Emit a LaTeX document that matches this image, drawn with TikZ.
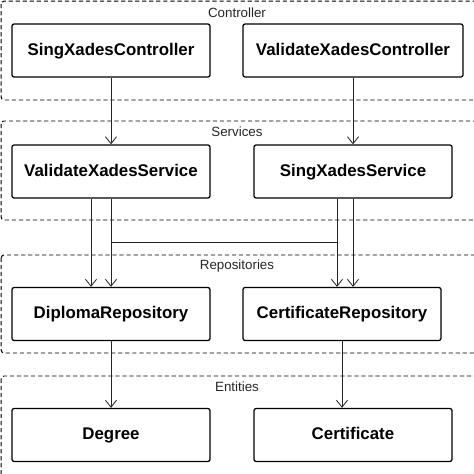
\documentclass[tikz,border=0pt]{standalone}
\usepackage{fontspec}
\setmainfont{Liberation Sans}
\usetikzlibrary{arrows.meta}

\begin{document}
\begin{tikzpicture}[> = {Straight Barb[length=5pt, width=8pt]},
	layer/.style = {draw, dashed, dash pattern = on 3pt off 2pt, line width = 0.7pt, rounded corners = 2pt},
	layertitle/.style = {font = \fontsize{9.5}{11}\selectfont, text = black!85},
	classbox/.style = {draw, line width = 0.9pt, rounded corners = 1.5pt, minimum height = 1.325 cm, text height = 1.6ex, text depth = 0.3ex, font = \fontsize{12}{14}\selectfont\bfseries},
	link/.style = {->, line width = 0.6pt, black!85}]

	\clip (0, -0.0) rectangle (11.85, 11.85);

	% Layers
	
	\draw [layer] (0.03, 11.82) rectangle (12.2, 9.35);
	\draw [layer] (0.03, 8.825) rectangle (12.2, 6.35);
	\draw [layer] (0.03, 5.475) rectangle (12.2, 3.025);
	\draw [layer] (0.03, 2.45) rectangle (12.2, -0.3);
	
	\node [layertitle] (ctrl) at (5.925, 11.525) {Controller};
	\node [layertitle] (serv) at (5.925, 8.55) {Services};
	\node [layertitle] (repo) at (5.925, 5.2) {Repositories};
	\node [layertitle] (enti) at (5.925, 2.175) {Entities};
	
	% Classes
	
	\node [classbox, minimum width = 4.95 cm] (sxc) at (2.775, 10.5875) {SingXadesController};
	\node [classbox, minimum width = 5.5 cm] (vxc) at (8.825, 10.5875) {ValidateXadesController};
	\node [classbox, minimum width = 4.95 cm] (vxs) at (2.775, 7.5625) {ValidateXadesService};
	\node [classbox, minimum width = 4.95 cm] (sxs) at (8.825, 7.5625) {SingXadesService};
	\node [classbox, minimum width = 4.95 cm] (dr) at (2.775, 4.0) {DiplomaRepository};
	\node [classbox, minimum width = 4.95 cm] (cr) at (8.55, 4.0) {CertificateRepository};
	\node [classbox, minimum width = 4.95 cm] (deg) at (2.775, 0.975) {Degree};
	\node [classbox, minimum width = 4.95 cm] (cert) at (8.825, 0.975) {Certificate};
	
	% Dependencies
	
	\coordinate (bus) at (0, 5.8);
	
	\draw [link] (sxc) -- (vxs);
	\draw [link] (vxc) -- (sxs);
	\draw [link] ([xshift = -0.5 cm] vxs.south) -- ([xshift = -0.5 cm] vxs.south |- dr.north);
	\draw [link] (vxs.south) |- ([xshift = -0.4 cm] sxs.south |- bus) -- ([xshift = -0.4 cm] sxs.south |- cr.north);
	\draw [link] ([xshift = -0.4 cm] sxs.south) |- (vxs.south |- bus) -- (dr.north);
	\draw [link] (sxs.south) -- (sxs.south |- cr.north);
	\draw [link] (dr) -- (deg);
	\draw [link] (cr.south) -- (cr.south |- cert.north);
	
\end{tikzpicture}
\end{document}
